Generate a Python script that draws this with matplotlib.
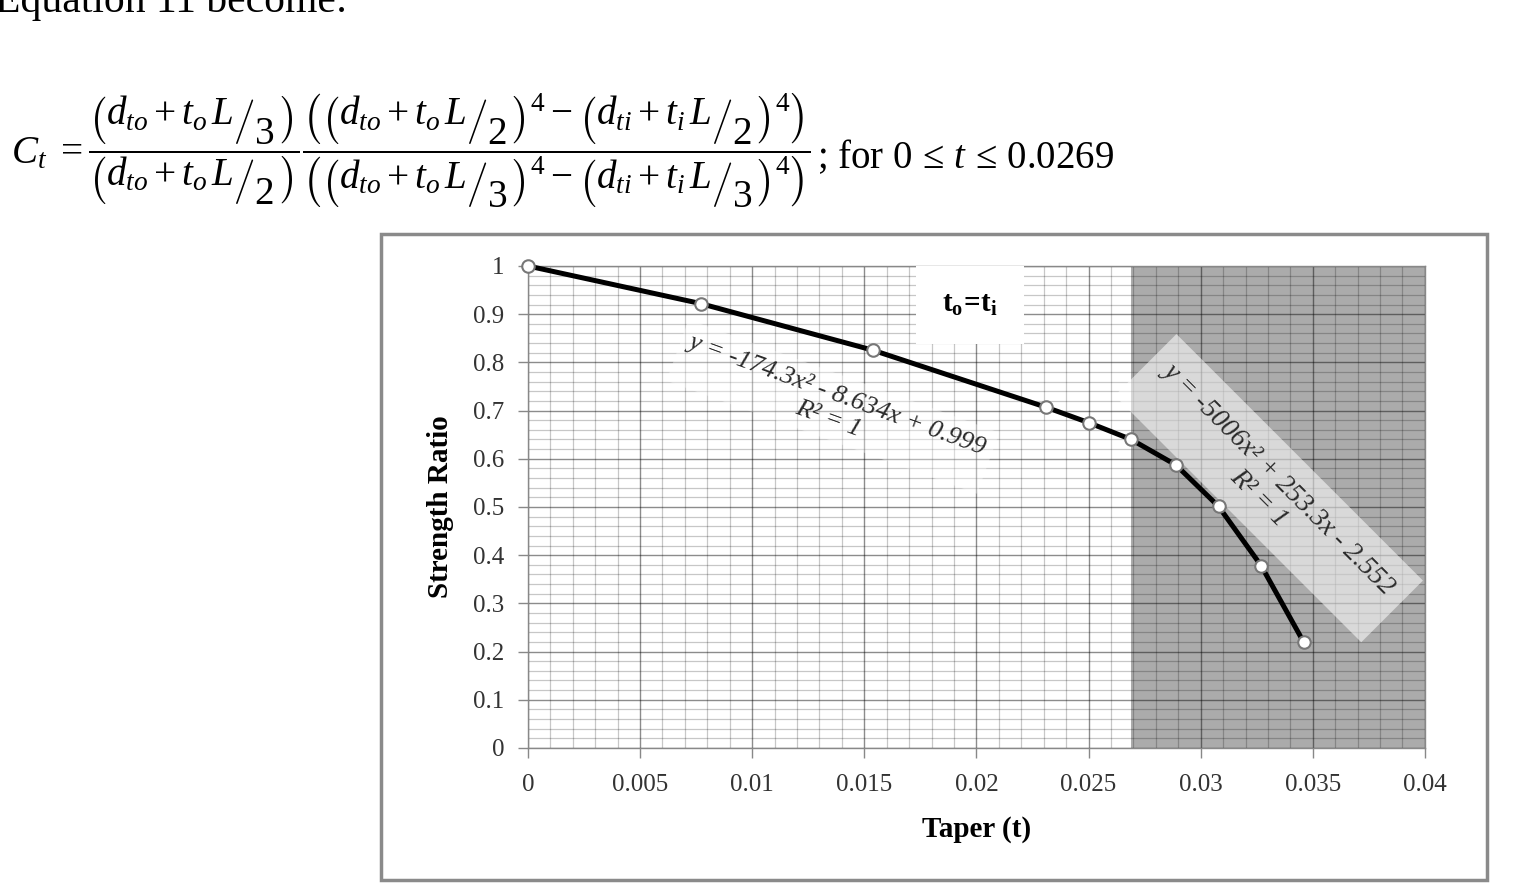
import matplotlib.pyplot as plt
import numpy as np
from matplotlib.patches import Rectangle

plt.rcParams['font.family'] = ['Liberation Serif', 'DejaVu Serif']
plt.rcParams['mathtext.fontset'] = 'custom'
plt.rcParams['mathtext.rm'] = 'Liberation Serif'
plt.rcParams['mathtext.it'] = 'Liberation Serif:italic'
plt.rcParams['mathtext.bf'] = 'Liberation Serif:bold'

# values
taper = [0.0, 0.0077, 0.0154, 0.0231, 0.0250, 0.0269, 0.0289, 0.0308, 0.0327, 0.0346]
strength = [1.0, 0.922, 0.825, 0.707, 0.675, 0.640, 0.587, 0.501, 0.378, 0.219]
t_limit = 0.0269

xticks = [0, 0.005, 0.01, 0.015, 0.02, 0.025, 0.03, 0.035, 0.04]
xlabels = ["0", "0.005", "0.01", "0.015", "0.02", "0.025", "0.03", "0.035", "0.04"]
yticks = [0, 0.1, 0.2, 0.3, 0.4, 0.5, 0.6, 0.7, 0.8, 0.9, 1.0]
ylabels = ["0", "0.1", "0.2", "0.3", "0.4", "0.5", "0.6", "0.7", "0.8", "0.9", "1"]

fit_low = "y = -174.3x² - 8.634x + 0.999\nR² = 1"
fit_high = "y = -5006x² + 253.3x - 2.552\nR² = 1"

fig = plt.figure(figsize=(15.17, 8.88), dpi=100)


def build_eq(f):
    return (r"$C_t\ =\dfrac{\left(d_{to}+t_o\," + f('3') + r"\right)}"
            r"{\left(d_{to}+t_o\," + f('2') + r"\right)}"
            r"\dfrac{\left(\left(d_{to}+t_o\," + f('2') + r"\right)^4-\left(d_{ti}+t_i\,"
            + f('2') + r"\right)^4\right)}"
            r"{\left(\left(d_{to}+t_o\," + f('3') + r"\right)^4-\left(d_{ti}+t_i\,"
            + f('3') + r"\right)^4\right)}$")


# slanted fraction L/n, tried from fanciest to plainest
slash_forms = [
    r"\left.L\middle/\genfrac{}{}{0}{0}{\,}{%s}\right.",
    r"\left.L\middle/\genfrac{}{}{0}{0}{L}{%s}\right.",
    r"L\left/\genfrac{}{}{0}{0}{\,}{%s}\right.",
    r"L/\genfrac{}{}{0}{0}{\,}{%s}",
    r"L/_{%s}",
]

# page text above the chart
fig.text(-0.003, 0.9865, "Equation 11 become:", fontsize=30, ha='left', va='baseline')
eq_text = fig.text(0.007, 0.830, "", fontsize=26, ha='left', va='center')
for form in slash_forms:
    eq_text.set_text(build_eq(lambda n: form % n))
    try:
        fig.canvas.draw()
        break
    except Exception:
        continue

# size the equation to the width it has on the page
r = fig.canvas.get_renderer()
w = eq_text.get_window_extent(r).width
eq_text.set_fontsize(26 * 796.0 / w)
fig.canvas.draw()
bb = eq_text.get_window_extent(r)
fig.text((bb.x1 + 7) / fig.bbox.width, 0.822,
         r"; for $0\,\leq\,t\,\leq\,0.0269$", fontsize=28, ha='left', va='center')

# chart frame
fig.patches.append(Rectangle((0.2512, 0.009), 0.729, 0.7275, transform=fig.transFigure,
                             fill=False, edgecolor='#8a8a8a', lw=2.5))

ax = fig.add_axes([0.348, 0.1577, 0.5913, 0.5428])
ax.axvspan(t_limit, 0.04, color='#ababab', zorder=0, lw=0)

ax.set_xlim(0, 0.04)
ax.set_ylim(0, 1)
ax.set_xticks(xticks)
ax.set_xticklabels(xlabels)
ax.set_yticks(yticks)
ax.set_yticklabels(ylabels)
ax.set_xticks(np.arange(0, 0.0401, 0.001), minor=True)
ax.set_yticks(np.arange(0, 1.001, 0.02), minor=True)
ax.grid(which='major', color='black', alpha=0.45, lw=1.0, zorder=1)
ax.grid(which='minor', color='black', alpha=0.22, lw=0.9, zorder=1)
ax.set_axisbelow(True)
ax.tick_params(axis='both', which='major', labelsize=18, labelcolor='#333333',
               color='#888888', length=7, width=1)
ax.tick_params(axis='x', which='major', pad=12)
ax.tick_params(axis='y', which='major', pad=10)
ax.tick_params(axis='both', which='minor', length=0)
for s in ax.spines.values():
    s.set_color('#888888')
    s.set_linewidth(1)

ax.plot(taper, strength, color='black', lw=3.6, zorder=3, clip_on=False)
ax.plot(taper, strength, ls='none', marker='o', ms=9, mfc='white', mec='#777777',
        mew=1.5, zorder=4, clip_on=False)

ax.set_xlabel("Taper (t)", fontsize=21, fontweight='bold', labelpad=14)
ax.set_ylabel("Strength Ratio", fontsize=21, fontweight='bold', labelpad=14)

ax.text(0.0136, 0.708, fit_low, fontsize=19, style='italic', color='#2a2a2a',
        rotation=-20, rotation_mode='anchor', ha='center', va='center',
        multialignment='center', linespacing=1.25, zorder=2,
        bbox=dict(boxstyle='square,pad=0.3', fc='white', ec='none', alpha=0.35))
ax.text(0.03304, 0.539, fit_high, fontsize=19.5, style='italic', color='#2a2a2a',
        rotation=-45, rotation_mode='anchor', ha='center', va='center',
        multialignment='center', linespacing=1.25, zorder=2,
        bbox=dict(boxstyle='square,pad=0.6', fc='white', ec='none', alpha=0.55))
ax.text(0.01971, 0.919, r"$\mathbf{t_o\!=\!t_i}$", fontsize=21, ha='center', va='center',
        zorder=5, bbox=dict(boxstyle='square,pad=0.9', fc='white', ec='none'))

fig.savefig("out.png", dpi=100)
